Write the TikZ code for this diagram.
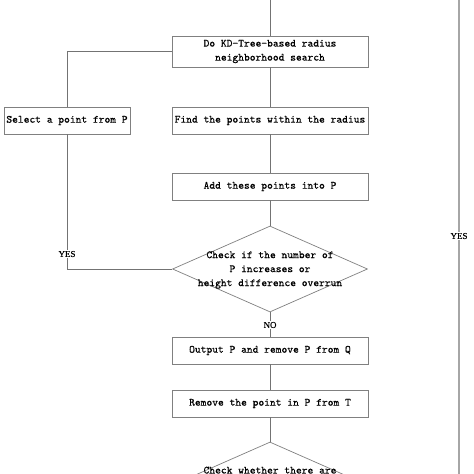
\documentclass[tikz,border=0pt]{standalone}
\usepackage{fontspec}
\newfontfamily\boxfont{Latin Modern Mono}[FakeBold=0.35]
\newfontfamily\lblfont{Liberation Serif}[FakeBold=0.3]
\usetikzlibrary{shapes.geometric}
\tikzset{
  conn/.style={draw=black!55, line width=0.7pt},
  stepbox/.style={draw=black!50, line width=0.7pt, minimum width=196pt, minimum height=27pt, inner sep=0pt, align=center, font=\boxfont\fontsize{11}{14}\selectfont},
  decide/.style={draw=black!50, line width=0.7pt, diamond, minimum width=195pt, minimum height=86pt, inner sep=0pt},
  dtext/.style={align=center, inner sep=0pt, font=\boxfont\fontsize{11}{14}\selectfont},
  lbl/.style={fill=white, inner sep=1pt, font=\lblfont\fontsize{9}{10}\selectfont}
}
\begin{document}
\begin{tikzpicture}[x=1pt,y=-1pt]
\useasboundingbox (0,0) rectangle (474,474);
\clip (0,0) rectangle (474,474);
\fill[white] (0,0) rectangle (474,474);
\coordinate (top) at (270,0);
\node[stepbox, minimum height=31pt] (b1) at (270,51.5) {Do KD-Tree-based radius\\neighborhood search};
\node[stepbox] (b2) at (270,120.5) {Find the points within the radius};
\node[stepbox, minimum width=126pt] (sel) at (67,120.5) {Select a point from P};
\node[stepbox] (b3) at (270,186.5) {Add these points into P};
\node[decide] (d1) at (270,269) {};
\node[dtext] (d1t) at (270,270) {Check if the number of\\P increases or\\height difference overrun};
\node[stepbox] (b4) at (270,350.5) {Output P and remove P from Q};
\node[stepbox] (b5) at (270,403.5) {Remove the point in P from T};
\node[decide] (d2) at (270,485) {};
\node[dtext, anchor=north] (d2t) at (270,466.5) {Check whether there are};
\coordinate (rt) at (459,0);
\coordinate (rb) at (459,474);

\draw[conn] (top) -- (b1);
\draw[conn] (b1.west) -| (sel.north);
\draw[conn] (b1) -- (b2);
\draw[conn] (b2) -- (b3);
\draw[conn] (b3) -- (d1.north);
\draw[conn] (sel.south) |- (d1.west);
\node[lbl] (yes1) at (67,254) {YES};
\draw[conn] (d1.south) -- (b4);
\node[lbl] (no1) at (270,325) {NO};
\draw[conn] (b4) -- (b5);
\draw[conn] (b5) -- (d2.north);
\draw[draw=black!35, line width=1.6pt] (rt) -- (rb);
\node[lbl] (yes2) at (459,236) {YES};
\end{tikzpicture}
\end{document}
